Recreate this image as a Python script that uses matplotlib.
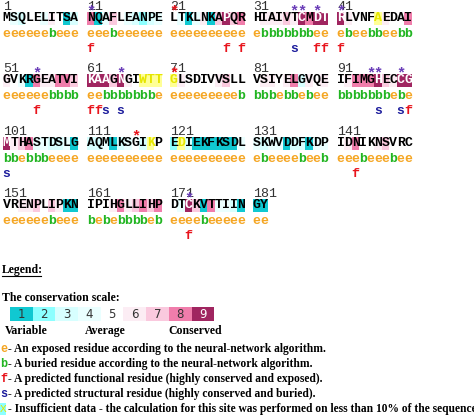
import matplotlib
matplotlib.use("Agg")
import matplotlib.pyplot as plt
from matplotlib.patches import Rectangle

# ---- data ----
sequence = ("MSQLELITSA" "NQAFLEANPE" "LTKLNKAPQR" "HIAIVTCMDT" "RLVNFAEDAI"
            "GVKRGEATVI" "KAAGNGIWTT" "GLSDIVVSLL" "VSIYELGVQE" "IFIMGHECCG"
            "MTHASTDSLG" "AQMLKSGIKP" "EDIEKFKSDL" "SKWVDDFKDP" "IDNIKNSVRC"
            "VRENPLIPKN" "IPIHGLLIHP" "DTCKVTTIIN" "GY")
grades = [5,4,3,5,5,4,6,5,1,3, 8,1,4,7,5,4,3,2,3,4, 5,4,1,4,6,1,7,9,7,8,
          5,6,6,6,7,6,9,8,9,9, 9,6,5,5,5,0,6,5,5,8, 6,5,4,1,8,6,6,8,8,7,
          9,9,9,7,9,6,5,0,0,0, 0,6,5,5,5,5,6,7,5,5, 5,6,6,5,6,8,3,6,5,6,
          5,6,8,8,8,9,7,6,9,9, 9,6,7,8,4,4,3,3,4,1, 3,3,4,1,3,4,5,3,0,5,
          2,0,3,1,1,1,1,1,1,4, 4,3,4,4,1,3,3,1,4,4, 5,6,8,5,5,6,7,5,5,5,
          5,5,6,6,7,5,7,6,1,1, 5,5,5,6,8,6,7,8,7,8, 5,4,9,7,1,8,4,4,3,1, 1,1]
burial = ("eeeeeebeee" "eeebeeeeee" "eeeeeeeeee" "ebbbbbbbee" "ebeebbeebb"
          "eeeeeebbbb" "eebbbbbbbe" "eeeeeeeeeb" "bbbebbebee" "bbbbbbbebe"
          "bbebbbeeee" "eeeeeeeeee" "eeeeeeeeee" "ebeeeebeeb" "eeebeeebee"
          "eeeeeebeee" "bebebbbbeb" "eeeebeeeee" "ee")
functional = [11, 28, 30, 39, 40, 41, 55, 61, 62, 100, 143, 173]
structural = [36, 63, 65, 96, 99, 101]
purple_stars = [11, 36, 37, 39, 41, 55, 65, 95, 96, 99, 173]
red_stars = [21, 71, 117]
scale_labels = ["1", "2", "3", "4", "5", "6", "7", "8", "9"]
scale_colors = ["#10C8D1", "#8CFFFF", "#D7FFFF", "#EAFFFF", "#FFFFFF",
                "#FCEDF4", "#FAC9DE", "#F07DAB", "#A02560"]
insuff_color = "#FFFF96"
legend_lines = [
    ("e", "#F5A623", "- An exposed residue according to the neural-network algorithm."),
    ("b", "#22B522", "- A buried residue according to the neural-network algorithm."),
    ("f", "#E8141C", "- A predicted functional residue (highly conserved and exposed)."),
    ("s", "#1C1C9C", "- A predicted structural residue (highly conserved and buried)."),
    ("X", "#8CFFFF", "- Insufficient data - the calculation for this site was performed on less than 10% of the sequences."),
]

# ---- layout ----
W, H = 474, 416
fig = plt.figure(figsize=(W/100, H/100), dpi=100)
ax = fig.add_axes([0, 0, 1, 1])
ax.set_xlim(0, W); ax.set_ylim(H, 0); ax.axis("off")

mono = "Liberation Mono"
serif = "Liberation Serif"
cw = 7.5
block_x = [3, 87, 170, 253, 337]
row_y0 = [18, 80, 143, 205]

def pos(i):
    blk = i // 10
    row, col = blk // 5, blk % 5
    return block_x[col] + (i % 10) * cw, row_y0[row]

for i, aa in enumerate(sequence):
    x, y = pos(i)
    g = grades[i]
    if i % 10 == 0:
        ax.text(x, y - 11, str(i + 1), fontsize=9.5, family=mono, color="#333333",
                ha="left", va="center")
    fc = insuff_color if g == 0 else scale_colors[g - 1]
    ax.add_patch(Rectangle((x, y - 6.5), cw, 13, facecolor=fc, edgecolor="none"))
    tc = "white" if g == 9 else ("#E6E600" if g == 0 else "black")
    ax.text(x + cw/2, y, aa, fontsize=9.5, family=mono, weight="bold", color=tc,
            ha="center", va="center")
    b = burial[i]
    ax.text(x + cw/2, y + 16, b, fontsize=9.5, family=mono, weight="bold",
            color="#F5A623" if b == "e" else "#22B522", ha="center", va="center")
    n = i + 1
    if n in functional:
        ax.text(x + cw/2, y + 31, "f", fontsize=9.5, family=mono, weight="bold",
                color="#E8141C", ha="center", va="center")
    if n in structural:
        ax.text(x + cw/2, y + 31, "s", fontsize=9.5, family=mono, weight="bold",
                color="#1C1C9C", ha="center", va="center")
    if n in purple_stars:
        ax.text(x + cw/2, y - 7, "*", fontsize=11, family=mono, weight="bold",
                color="#6A3DB8", ha="center", va="center")
    if n in red_stars:
        ax.text(x + cw/2, y - 7, "*", fontsize=11, family=mono, weight="bold",
                color="#E8141C", ha="center", va="center")

# legend
ax.text(2, 270, "Legend:", fontsize=8.5, family=serif, weight="bold", va="center")
ax.plot([2, 41], [275.5, 275.5], color="black", lw=0.8)
ax.text(2, 298, "The conservation scale:", fontsize=8.5, family=serif, weight="bold", va="center")
bw = 22.7
for k, (lab, c) in enumerate(zip(scale_labels, scale_colors)):
    ax.add_patch(Rectangle((10 + k*bw, 307), bw, 14, facecolor=c, edgecolor="none"))
    ax.text(10 + k*bw + bw/2, 314, lab, fontsize=8.5, family="DejaVu Sans",
            color="white" if k == 8 else "#333333", ha="center", va="center")
ax.text(5, 331, "Variable", fontsize=8.5, family=serif, weight="bold", va="center")
ax.text(85, 331, "Average", fontsize=8.5, family=serif, weight="bold", va="center")
ax.text(168, 331, "Conserved", fontsize=8.5, family=serif, weight="bold", va="center")
for k, (sym, c, txt) in enumerate(legend_lines):
    y = 349 + k * 15
    if sym == "X":
        ax.add_patch(Rectangle((0, y - 6), 6, 12, facecolor=c, edgecolor="none"))
        ax.text(0, y, "X", fontsize=8, family=mono, color="#E6E600", va="center")
    else:
        ax.text(0, y, sym, fontsize=8.5, family=mono, weight="bold", color=c, va="center")
    ax.text(8, y, txt, fontsize=8.3, family=serif, weight="bold", va="center")

fig.savefig("out.png", dpi=100)
